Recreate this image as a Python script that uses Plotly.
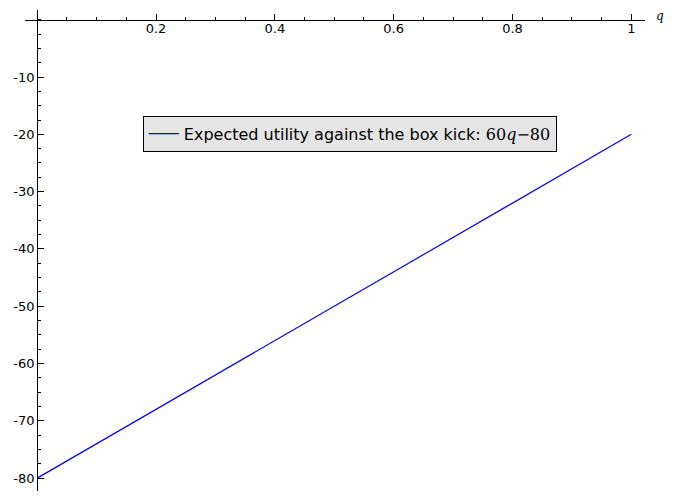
import plotly.graph_objects as go

# expected utility 60q - 80 evaluated at the ends of q in [0, 1]
q = [0, 1]
utility = [-80, -20]

x_ticks = [0.2, 0.4, 0.6, 0.8, 1]
x_labels = ['0.2', '0.4', '0.6', '0.8', '1']
y_ticks = [-10, -20, -30, -40, -50, -60, -70, -80]
y_labels = [str(v) for v in y_ticks]

x_range = [-0.0205, 1.023]
y_range = [-82.25, 1.7]

fig = go.Figure()
fig.add_trace(go.Scatter(
    x=q, y=utility, mode='lines',
    line=dict(color='#0000ff', width=1.2),
    name="Expected utility against the box kick: "
         "<span style='font-family:DejaVu Serif'>60<i>q</i>\u221280</span>"))

tick_font = dict(family='DejaVu Sans', size=13, color='black')
# page body has an 8px margin, so the figure is sized to fit the window
fig.update_layout(
    width=658, height=484,
    margin=dict(l=17, r=21, t=2, b=1),
    plot_bgcolor='white', paper_bgcolor='white',
    showlegend=True,
    legend=dict(x=0.19, y=0.78, xanchor='left', yanchor='top',
                bgcolor='#e5e5e5', bordercolor='black', borderwidth=1,
                font=dict(family='DejaVu Sans', size=16, color='black'),
                itemwidth=30),
    xaxis=dict(range=x_range, showgrid=False, zeroline=False,
               showline=True, linecolor='black', linewidth=1,
               anchor='free', automargin=False,
               position=(0 - y_range[0]) / (y_range[1] - y_range[0]),
               side='bottom', ticks='inside', ticklen=6, tickcolor='black',
               ticklabelstandoff=-3,
               tickvals=x_ticks, ticktext=x_labels, tickfont=tick_font,
               minor=dict(ticks='inside', ticklen=3, dtick=0.05, tick0=0,
                          tickcolor='black', showgrid=False)),
    yaxis=dict(range=y_range, showgrid=False, zeroline=False,
               showline=True, linecolor='black', linewidth=1,
               anchor='free', automargin=False,
               position=(0 - x_range[0]) / (x_range[1] - x_range[0]),
               side='left', ticks='inside', ticklen=6, tickcolor='black',
               tickvals=y_ticks, ticktext=y_labels, tickfont=tick_font,
               minor=dict(ticks='inside', ticklen=3, dtick=2.5, tick0=0,
                          tickcolor='black', showgrid=False)),
)
fig.add_annotation(x=1, y=0.6, xref='paper', yref='y',
                   xanchor='left', yanchor='middle', xshift=9,
                   text='<i>q</i>', showarrow=False,
                   font=dict(family='DejaVu Serif', size=12, color='black'))

fig.write_html("out.html")
